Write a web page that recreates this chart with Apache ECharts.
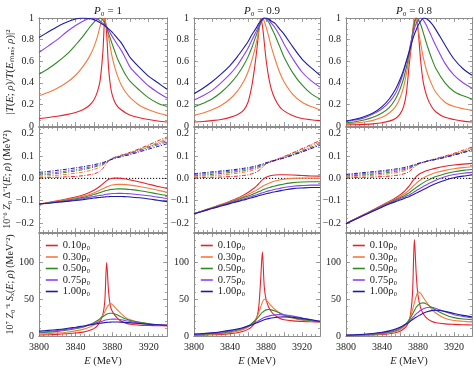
<!DOCTYPE html>
<html><head><meta charset="utf-8">
<script src="https://cdn.jsdelivr.net/npm/echarts@6/dist/echarts.min.js"></script>
<style>html,body{margin:0;padding:0;background:#fff}#c{width:474px;height:368px}</style>
</head><body><div id="c"></div>
<script>
// ---------- data ----------
const E = [3800,3810,3820,3830,3840,3848,3855,3860,3864,3867,3870,3872,3874,3876,3878,3880,3883,3886,3890,3895,3900,3910,3920,3930,3940];
const DENSITIES = ['0.10ρ₀','0.30ρ₀','0.50ρ₀','0.75ρ₀','1.00ρ₀'];
const P0_VALUES = ['1','0.9','0.8'];
const X_TICKS = [3800,3840,3880,3920];
const Y_TICKS_T = [0,0.2,0.4,0.6,0.8,1];
const Y_TICKS_D = [-0.2,-0.1,0,0.1,0.2];
const Y_TICKS_S = [0,50,100];

// |T(E)/T(Emax)|^2  (red, orange, green, purple, blue)
const T_P1 = [
 [.068,.078,.09,.105,.125,.15,.19,.24,.32,.43,.7,1.0,.85,.55,.38,.29,.22,.18,.15,.12,.1,.077,.06,.047,.037],
 [.28,.31,.35,.40,.47,.55,.64,.73,.83,.93,1.0,.98,.92,.83,.73,.64,.54,.46,.38,.31,.26,.19,.15,.12,.10],
 [.48,.53,.59,.66,.75,.83,.91,.96,.99,1.0,.98,.95,.91,.86,.81,.76,.69,.62,.55,.47,.41,.33,.26,.21,.18],
 [.68,.74,.80,.87,.93,.97,.995,1.0,.99,.97,.95,.93,.91,.89,.86,.83,.79,.75,.70,.62,.54,.45,.37,.31,.26],
 [.82,.87,.92,.96,.99,1.0,.995,.985,.97,.955,.94,.93,.915,.90,.885,.87,.84,.81,.77,.70,.63,.54,.46,.40,.34]
];
const T_P09 = [
 [.037,.042,.05,.06,.08,.105,.145,.22,.36,.52,.72,.88,.99,.93,.78,.62,.45,.34,.25,.18,.14,.095,.07,.058,.05],
 [.10,.12,.15,.19,.25,.32,.41,.50,.60,.69,.80,.88,.96,1.0,.97,.92,.83,.73,.62,.50,.41,.29,.22,.18,.15],
 [.175,.21,.25,.31,.39,.47,.56,.64,.72,.79,.86,.91,.95,.98,1.0,.99,.96,.91,.84,.74,.64,.49,.38,.30,.25],
 [.24,.28,.33,.40,.48,.56,.65,.72,.79,.84,.89,.93,.96,.99,1.0,.995,.98,.95,.91,.84,.76,.62,.50,.42,.36],
 [.30,.35,.41,.48,.56,.64,.72,.78,.84,.88,.92,.95,.97,.99,1.0,1.0,.99,.97,.95,.90,.85,.73,.62,.54,.47]
];
const T_P08 = [
 [.01,.012,.015,.02,.03,.045,.07,.11,.18,.3,.55,.7,.85,.97,1.0,.9,.6,.4,.27,.18,.13,.08,.06,.045,.037],
 [.02,.027,.037,.052,.08,.12,.18,.26,.36,.48,.62,.73,.87,1.0,.97,.9,.76,.63,.5,.39,.31,.22,.18,.16,.145],
 [.03,.04,.055,.08,.12,.17,.25,.34,.44,.54,.66,.76,.86,.94,1.0,.99,.94,.86,.75,.63,.53,.40,.32,.28,.25],
 [.04,.055,.075,.11,.16,.22,.30,.40,.50,.59,.69,.77,.84,.90,.95,.98,1.0,.98,.92,.83,.74,.58,.47,.40,.35],
 [.046,.062,.085,.12,.18,.25,.34,.43,.52,.60,.68,.74,.80,.85,.89,.93,.97,1.0,.99,.95,.89,.75,.62,.53,.47]
];
// 1e-6 Z0 Delta^-1 : solid lines
const D_P1 = [
 [-.115,-.108,-.1,-.092,-.083,-.074,-.063,-.053,-.043,-.034,-.024,-.017,-.01,-.005,-.002,0,.001,.001,0,-.003,-.007,-.016,-.026,-.036,-.045],
 [-.115,-.109,-.102,-.095,-.087,-.08,-.072,-.065,-.058,-.052,-.046,-.042,-.038,-.035,-.032,-.03,-.028,-.027,-.027,-.028,-.03,-.036,-.044,-.053,-.062],
 [-.115,-.11,-.104,-.098,-.091,-.085,-.078,-.072,-.067,-.063,-.059,-.056,-.054,-.052,-.05,-.049,-.048,-.047,-.047,-.048,-.05,-.055,-.062,-.07,-.077],
 [-.115,-.111,-.106,-.101,-.095,-.09,-.085,-.081,-.078,-.076,-.074,-.072,-.071,-.07,-.069,-.068,-.068,-.067,-.067,-.068,-.069,-.073,-.078,-.084,-.09],
 [-.115,-.111,-.107,-.103,-.099,-.095,-.091,-.088,-.086,-.085,-.084,-.083,-.082,-.082,-.081,-.081,-.081,-.081,-.081,-.082,-.083,-.087,-.092,-.098,-.104]
];
const D_P09 = [
 [-.158,-.145,-.131,-.117,-.102,-.089,-.075,-.063,-.052,-.043,-.032,-.024,-.015,-.007,0,.005,.01,.013,.015,.016,.016,.015,.013,.011,.01],
 [-.158,-.145,-.132,-.118,-.104,-.092,-.081,-.072,-.064,-.058,-.051,-.046,-.041,-.036,-.031,-.027,-.022,-.017,-.012,-.007,-.004,0,.001,.001,0],
 [-.158,-.146,-.133,-.12,-.107,-.096,-.086,-.079,-.073,-.068,-.063,-.059,-.056,-.052,-.049,-.046,-.042,-.038,-.034,-.029,-.025,-.019,-.016,-.015,-.015],
 [-.158,-.146,-.134,-.122,-.11,-.1,-.092,-.086,-.081,-.077,-.073,-.07,-.067,-.064,-.062,-.059,-.056,-.053,-.049,-.045,-.041,-.035,-.032,-.03,-.03],
 [-.158,-.147,-.135,-.124,-.113,-.104,-.097,-.091,-.087,-.083,-.08,-.077,-.075,-.073,-.071,-.069,-.066,-.063,-.06,-.056,-.052,-.046,-.043,-.041,-.041]
];
const D_P08 = [
 [-.203,-.182,-.162,-.141,-.12,-.103,-.088,-.074,-.061,-.049,-.035,-.024,-.012,-.001,.008,.015,.023,.029,.035,.041,.046,.054,.06,.064,.067],
 [-.203,-.182,-.162,-.142,-.122,-.106,-.092,-.081,-.071,-.063,-.053,-.046,-.038,-.03,-.022,-.015,-.006,.002,.011,.019,.026,.036,.043,.048,.052],
 [-.203,-.183,-.163,-.143,-.124,-.109,-.096,-.087,-.079,-.072,-.065,-.059,-.053,-.047,-.041,-.035,-.027,-.019,-.01,0,.008,.021,.03,.036,.04],
 [-.203,-.183,-.164,-.145,-.126,-.112,-.1,-.092,-.085,-.08,-.074,-.07,-.065,-.06,-.055,-.05,-.043,-.036,-.027,-.017,-.008,.007,.017,.023,.027],
 [-.203,-.184,-.165,-.147,-.129,-.115,-.104,-.097,-.091,-.086,-.082,-.078,-.074,-.07,-.066,-.062,-.056,-.05,-.042,-.032,-.023,-.008,.003,.01,.015]
];
// dash-dotted lines
const DD_P1 = [
 [.003,.004,.005,.007,.009,.012,.016,.02,.026,.033,.045,.056,.068,.078,.085,.09,.095,.099,.104,.11,.117,.133,.15,.168,.185],
 [.009,.011,.014,.018,.023,.028,.034,.04,.046,.052,.06,.066,.073,.079,.084,.088,.093,.097,.103,.109,.115,.13,.145,.16,.177],
 [.015,.018,.022,.027,.033,.039,.045,.05,.055,.059,.064,.068,.073,.078,.083,.087,.092,.096,.101,.107,.113,.127,.141,.155,.17],
 [.021,.024,.028,.033,.039,.045,.05,.055,.059,.063,.067,.071,.075,.079,.083,.086,.091,.095,.1,.105,.111,.124,.137,.15,.163],
 [.027,.031,.036,.041,.047,.052,.057,.061,.065,.068,.071,.074,.077,.08,.083,.086,.09,.093,.097,.102,.107,.119,.131,.143,.155]
];
const DD_P09 = [
 [.003,.004,.005,.006,.008,.01,.013,.016,.02,.024,.03,.035,.042,.05,.058,.065,.073,.078,.083,.09,.098,.115,.133,.151,.17],
 [.008,.01,.012,.015,.019,.023,.027,.031,.035,.039,.043,.047,.051,.056,.061,.065,.071,.075,.081,.088,.096,.112,.128,.145,.163],
 [.012,.015,.018,.022,.026,.03,.034,.038,.042,.045,.049,.052,.055,.059,.062,.066,.07,.074,.08,.086,.093,.108,.123,.139,.157],
 [.017,.02,.024,.028,.032,.036,.04,.043,.046,.049,.052,.055,.058,.061,.064,.067,.071,.075,.08,.086,.092,.106,.12,.135,.152],
 [.021,.025,.029,.033,.037,.041,.045,.048,.051,.054,.057,.059,.062,.064,.067,.07,.073,.077,.081,.086,.091,.104,.118,.133,.148]
];
const DD_P08 = [
 [.003,.004,.005,.006,.008,.01,.013,.016,.02,.024,.03,.036,.044,.052,.058,.063,.068,.072,.077,.083,.089,.1,.112,.126,.14],
 [.007,.009,.011,.014,.017,.021,.025,.029,.033,.037,.042,.046,.051,.056,.06,.064,.069,.072,.077,.082,.087,.098,.109,.121,.135],
 [.011,.013,.016,.019,.023,.027,.031,.035,.039,.042,.046,.049,.053,.057,.061,.064,.068,.072,.077,.082,.086,.096,.107,.118,.131],
 [.015,.018,.021,.025,.029,.033,.037,.04,.043,.046,.05,.053,.056,.059,.062,.065,.069,.072,.077,.081,.085,.095,.105,.116,.128],
 [.018,.022,.026,.03,.034,.038,.042,.045,.048,.051,.054,.056,.059,.062,.064,.067,.07,.073,.077,.081,.085,.094,.104,.115,.126]
];
// 1e7 Z0^-1 S_X
const S_P1 = [
 [1.3,1.7,2.2,3.0,4.0,5.3,7.5,10,14,20,30,48,100,62,41,34,28,24,20,17.5,16,14.8,14.3,14,13.8],
 [2.6,3.2,4.0,5.2,7.0,9.0,12,15,19,23,28,33,38,42,44,43,39,35,30,25,22,18.5,16.5,15.3,14.5],
 [4.4,5.2,6.3,7.8,9.8,12,15,18,21,24,26.5,28,29.5,30.5,31,31,30,28.5,26,23,21,18.5,16.5,15.3,14.5],
 [5.3,6.2,7.4,9,11,13,15.5,17,18.5,19.5,20.5,21.3,22,22.5,22.8,23,23,22.7,22,20.8,19.5,17.5,16,15.2,14.5],
 [6.6,7.6,8.8,10.3,12,13.5,15,16,16.8,17.4,17.9,18.2,18.5,18.7,18.9,19,19,19,18.8,18.4,17.9,16.9,15.9,15.2,14.6]
];
const S_P09 = [
 [0.9,1.2,1.6,2.2,3.2,4.5,6.5,9,12.5,17,26,40,75,114,68,50,39,33,28,24,22,20.5,19.8,19.3,19],
 [1.3,1.7,2.3,3.2,4.6,6.4,9,12,16,20,26,32,39,46,50,49,45,41,36,31,28,24,21.5,20,19],
 [1.7,2.2,3,4.1,5.8,7.8,10.5,13.5,17,20,23.5,26.5,29.5,32,34,35.5,36,35.5,34,31.5,29,25,22.5,20.8,19.5],
 [2.2,2.8,3.7,5,6.8,8.8,11,13.5,15.5,17.5,19.5,21,22.5,23.8,25,26,27,28,28.7,29,28.8,27,24.5,22,20],
 [2.6,3.3,4.3,5.8,7.6,9.5,11.5,13.5,15,16.5,18,19,20,21,22,22.7,23.6,24.4,25.2,25.8,26,25.5,24,22,20]
];
const S_P08 = [
 [0.4,0.6,0.9,1.3,2,3,4.5,6.5,9.5,13,20,32,60,131,85,55,38,30,24,20,18,16.5,15.8,15.3,15],
 [0.6,0.8,1.2,1.8,2.7,4,6,8.5,12,16,22,28,36,45,54,60,58,52,45,37,31,24,21,20,19],
 [0.8,1.1,1.6,2.3,3.5,5,7.2,10,13.5,17,21.5,25.5,30,34.5,39,42,44.5,45,43,39,35,29,25,23,22],
 [1,1.4,2,2.8,4.2,6,8.5,11,14,16.5,19.5,22,25,27.5,30,32,35,37,38.7,39,37.5,33,29,26.5,24.5],
 [1.3,1.7,2.4,3.4,5,7,9.5,12,14.5,16.5,18.5,20.5,22.5,24,25.5,27,29,31,33,34.5,35,33.5,30.5,28,26]
];

// ---------- layout & style ----------
const COLORS = ['#e8222c','#f47a3c','#2f8a26','#8c40f0','#1b1ba6'];
const FRAME = '#8c8c8c';
const FONT = 'Liberation Serif';
const COL_LEFT = [39,194,346], COL_W = [128,126,126];
const ROW_TOP = [18,127,233], ROW_H = [108,105,106];
const NAME_SIZE = [10.8,10,10];

function steps(a,b,s){const r=[];for(let k=Math.round(a/s);k*s<=b+1e-9;k++)r.push(+(k*s).toFixed(4));return r;}
const ROW_Y = [
  {min:0,max:1,major:Y_TICKS_T,minor:steps(0,1,0.05),fmt:v=>(v===0||v===1)?String(v):v.toFixed(1)},
  {min:-0.24,max:0.23,major:Y_TICKS_D,minor:steps(-0.24,0.23,0.02),fmt:v=>(v<-1e-9?'−':'')+Math.abs(v).toFixed(1)},
  {min:0,max:140,major:Y_TICKS_S,minor:steps(0,140,10),fmt:v=>String(v)}
];
const X_MINOR = steps(3800,3940,5);
const X_MAJOR = steps(3800,3940,20);
const Y_NAMES = [
  '{n||}{i|T}{n|(}{i|E}{n|; }{i|ρ}{n|)/}{i|T}{n|(}{i|E}{n|ₘₐₓ; }{i|ρ}{n|)|²}',
  '{n|10⁻⁶ }{i|Z}{n|₀ Δ⁻¹(}{i|E}{n|; }{i|ρ}{n|) (MeV²)}',
  '{n|10⁷ }{i|Z}{n|₀⁻¹ }{i|S}{n|ₓ(}{i|E}{n|; }{i|ρ}{n|) (MeV⁻²)}'
];
function rich(sz){return {n:{fontFamily:FONT,fontSize:sz,fontWeight:'normal',color:'#222'},i:{fontFamily:FONT,fontSize:sz,fontWeight:'normal',fontStyle:'italic',color:'#222'}};}

const PANELS = [
  [T_P1,T_P09,T_P08],
  [D_P1,D_P09,D_P08],
  [S_P1,S_P09,S_P08]
];
const DASHED = [DD_P1,DD_P09,DD_P08];

const grid=[], xAxis=[], yAxis=[], series=[], legend=[], title=[];

function xAx(g,pos,vals,len,opts){
  xAxis.push(Object.assign({type:'value',gridIndex:g,position:pos,min:3800,max:3940,
    axisLine:{show:true,onZero:false,lineStyle:{color:FRAME,width:1}},
    axisTick:{show:true,inside:true,length:len,customValues:vals,lineStyle:{color:FRAME,width:0.8}},
    axisLabel:{show:false},splitLine:{show:false}},opts||{}));
  return xAxis.length-1;
}
function yAx(g,pos,cfg,vals,len,opts){
  yAxis.push(Object.assign({type:'value',gridIndex:g,position:pos,min:cfg.min,max:cfg.max,
    axisLine:{show:true,onZero:false,lineStyle:{color:FRAME,width:1}},
    axisTick:{show:true,inside:true,length:len,customValues:vals,lineStyle:{color:FRAME,width:0.8}},
    axisLabel:{show:false},splitLine:{show:false}},opts||{}));
  return yAxis.length-1;
}

for(let r=0;r<3;r++){
  for(let c=0;c<3;c++){
    const g=grid.length;
    grid.push({left:COL_LEFT[c],top:ROW_TOP[r],width:COL_W[c],height:ROW_H[r],containLabel:false});
    const cfg=ROW_Y[r];
    const xOpts = r===2 ? {
      axisLabel:{show:true,customValues:X_TICKS,formatter:v=>String(v),margin:6,fontFamily:FONT,fontSize:10,color:'#222'},
      name:'{i|E}{n| (MeV)}',nameLocation:'middle',nameGap:20,nameTextStyle:{rich:rich(10.5)}
    } : {};
    const xi = xAx(g,'bottom',X_MAJOR,4,xOpts);
    xAx(g,'bottom',X_MINOR,2);
    xAx(g,'top',X_MAJOR,4);
    xAx(g,'top',X_MINOR,2);
    const yOpts = {axisLabel:{show:true,customValues:cfg.major,formatter:cfg.fmt,margin:5,fontFamily:FONT,fontSize:10,color:'#222'}};
    if(c===0){Object.assign(yOpts,{name:Y_NAMES[r],nameLocation:'middle',nameRotate:90,nameGap:23,nameTextStyle:{rich:rich(NAME_SIZE[r])}});}
    const yi = yAx(g,'left',cfg,cfg.major,4,yOpts);
    yAx(g,'left',cfg,cfg.minor,2);
    yAx(g,'right',cfg,cfg.major,4);
    yAx(g,'right',cfg,cfg.minor,2);

    if(r===1){
      series.push({type:'line',xAxisIndex:xi,yAxisIndex:yi,data:[[3800,0],[3940,0]],symbol:'none',silent:true,
        lineStyle:{color:'#000',width:1,type:[1.2,1.8]},z:1});
      DASHED[c].forEach((vals,k)=>series.push({type:'line',name:'dd'+r+c+k,xAxisIndex:xi,yAxisIndex:yi,
        data:E.map((e,i)=>[e,vals[i]]),symbol:'none',smooth:0.3,
        lineStyle:{color:COLORS[k],width:1,type:[4,1.5,1,1.5]},z:2}));
    }
    PANELS[r][c].forEach((vals,k)=>series.push({type:'line',name: r===2?DENSITIES[k]:('s'+r+c+k),xAxisIndex:xi,yAxisIndex:yi,
      data:E.map((e,i)=>[e,vals[i]]),symbol:'none',smooth:0.3,clip:true,
      lineStyle:{color:COLORS[k],width:1.1},itemStyle:{color:COLORS[k]},z:3}));
  }
}
for(let c=0;c<3;c++){
  title.push({text:'{i|P}{n|₀ = '+P0_VALUES[c]+'}',left:COL_LEFT[c]+COL_W[c]/2,top:1,textAlign:'center',
    textStyle:{fontWeight:'normal',rich:rich(11)}});
  legend.push({data:DENSITIES,orient:'vertical',left:COL_LEFT[c]+6,top:240,itemWidth:12,itemHeight:7,itemGap:0.5,padding:0,
    selectedMode:false,itemStyle:{opacity:0},lineStyle:{width:1.6},
    textStyle:{fontFamily:FONT,fontSize:10.5,color:'#222',lineHeight:9}});
}

const chart=echarts.init(document.getElementById('c'),null,{renderer:'canvas'});
chart.setOption({animation:false,backgroundColor:'#fff',title,grid,xAxis,yAxis,series,legend});
</script></body></html>
